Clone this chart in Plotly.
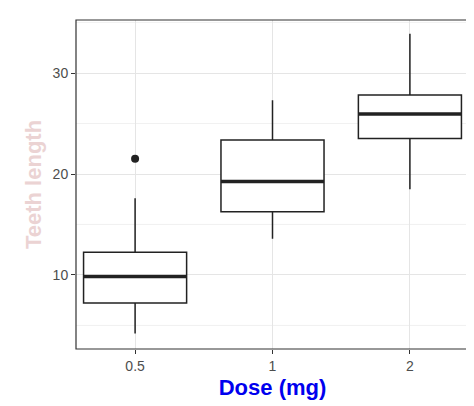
import plotly.graph_objects as go

doses = ["0.5", "1", "2"]
q1 = [7.225, 16.25, 23.525]
median = [9.85, 19.25, 25.95]
q3 = [12.25, 23.375, 27.825]
lower = [4.2, 13.6, 18.5]
upper = [17.6, 27.3, 33.9]
outlier_x = ["0.5"]
outlier_y = [21.5]

pos = {d: i for i, d in enumerate(doses)}

fig = go.Figure()
fig.add_trace(go.Box(
    x=[pos[d] for d in doses], q1=q1, median=median, q3=q3,
    lowerfence=lower, upperfence=upper, width=0.75, whiskerwidth=0,
    fillcolor="white", line=dict(color="#222222", width=1.5),
    boxpoints=False, showlegend=False,
))
fig.add_trace(go.Scatter(
    x=[pos[d] for d in outlier_x], y=outlier_y, mode="markers",
    marker=dict(color="#222222", size=8), showlegend=False,
))
# thicker median lines as in ggplot
for i, m in enumerate(median):
    fig.add_shape(type="line", x0=i - 0.375, x1=i + 0.375, y0=m, y1=m,
                  line=dict(color="#222222", width=3.5))

for v in [5, 15, 25, 35]:
    fig.add_hline(y=v, line=dict(color="#EEEEEE", width=0.8), layer="below")

# panel border
fig.add_shape(type="rect", xref="paper", yref="paper", x0=0, x1=1, y0=0, y1=1,
              line=dict(color="#333333", width=1.2))

fig.update_layout(
    width=474, height=406, margin=dict(l=68, r=13, t=12, b=65),
    plot_bgcolor="white", paper_bgcolor="white",
    font=dict(family="Liberation Sans, Arial", size=14, color="#4D4D4D"),
    xaxis=dict(
        tickmode="array", tickvals=[0, 1, 2], ticktext=doses, range=[-0.43, 2.43],
        showgrid=True, gridcolor="#E5E5E5", gridwidth=1.2, automargin=False,
        ticks="outside", ticklen=4, tickcolor="#333333", zeroline=False,
        title=dict(text="<b>Dose (mg)</b>", font=dict(size=22, color="#0000EE"), standoff=6),
    ),
    yaxis=dict(
        range=[2.67, 35.25], tickvals=[10, 20, 30],
        showgrid=True, gridcolor="#E5E5E5", gridwidth=1.2, automargin=False,
        ticks="outside", ticklen=4, tickcolor="#333333", zeroline=False,
        title=dict(text="<b>Teeth length</b>", font=dict(size=22, color="#EBD3D3"), standoff=4),
    ),
)

fig.write_html("out.html")
